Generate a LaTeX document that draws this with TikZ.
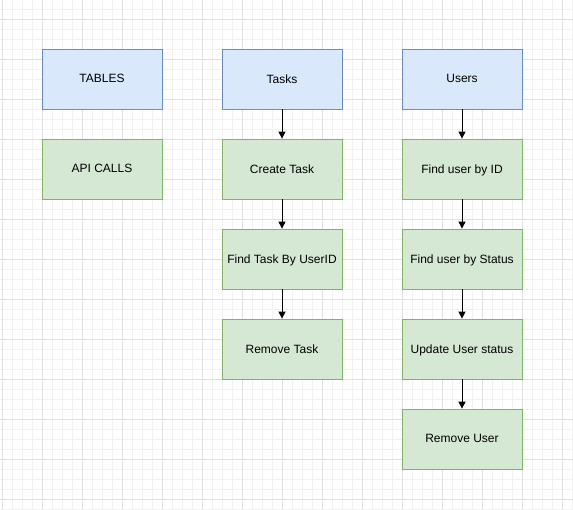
\documentclass[tikz,border=0pt]{standalone}
\usepackage{fontspec}
\setmainfont{Liberation Sans}
\usetikzlibrary{arrows.meta}
\definecolor{bluefill}{HTML}{DAE8FC}
\definecolor{bluedraw}{HTML}{6C8EBF}
\definecolor{greenfill}{HTML}{D5E8D4}
\definecolor{greendraw}{HTML}{82B366}
\definecolor{minorgrid}{HTML}{F2F2F2}
\definecolor{majorgrid}{HTML}{E0E0E0}
\tikzset{
  box/.style={draw, minimum width=120pt, minimum height=60pt, inner sep=0pt, font=\fontsize{12}{14}\selectfont, line width=0.8pt, text depth=0.5pt},
  tbl/.style={box, fill=bluefill, draw=bluedraw},
  api/.style={box, fill=greenfill, draw=greendraw},
  conn/.style={-{Triangle[length=7pt,width=7pt]}, line width=1pt, black},
}
\begin{document}
\begin{tikzpicture}[x=1pt,y=-1pt]
\useasboundingbox (0,0) rectangle (573,509);
\fill[white] (0,0) rectangle (573,509);
\foreach \x in {2,12,...,572} \draw[minorgrid, line width=0.8pt] (\x,0) -- (\x,509);
\foreach \y in {9,19,...,509} \draw[minorgrid, line width=0.8pt] (0,\y) -- (573,\y);
\foreach \x in {2,42,...,572} \draw[majorgrid, line width=0.8pt] (\x,0) -- (\x,509);
\foreach \y in {19,59,...,509} \draw[majorgrid, line width=0.8pt] (0,\y) -- (573,\y);

\node[tbl] (tables) at (102,79) {TABLES};
\node[api] (apicalls) at (102,169) {API CALLS};

\node[tbl] (tasks) at (282,79) {Tasks};
\node[api] (create) at (282,169) {Create Task};
\node[api] (findtask) at (282,259) {Find Task By UserID};
\node[api] (removetask) at (282,349) {Remove Task};

\node[tbl] (users) at (462,79) {Users};
\node[api] (findid) at (462,169) {Find user by ID};
\node[api] (findstatus) at (462,259) {Find user by Status};
\node[api] (update) at (462,349) {Update User status};
\node[api] (removeuser) at (462,439) {Remove User};

\draw[conn] (tasks) -- (create);
\draw[conn] (create) -- (findtask);
\draw[conn] (findtask) -- (removetask);
\draw[conn] (users) -- (findid);
\draw[conn] (findid) -- (findstatus);
\draw[conn] (findstatus) -- (update);
\draw[conn] (update) -- (removeuser);
\end{tikzpicture}
\end{document}
